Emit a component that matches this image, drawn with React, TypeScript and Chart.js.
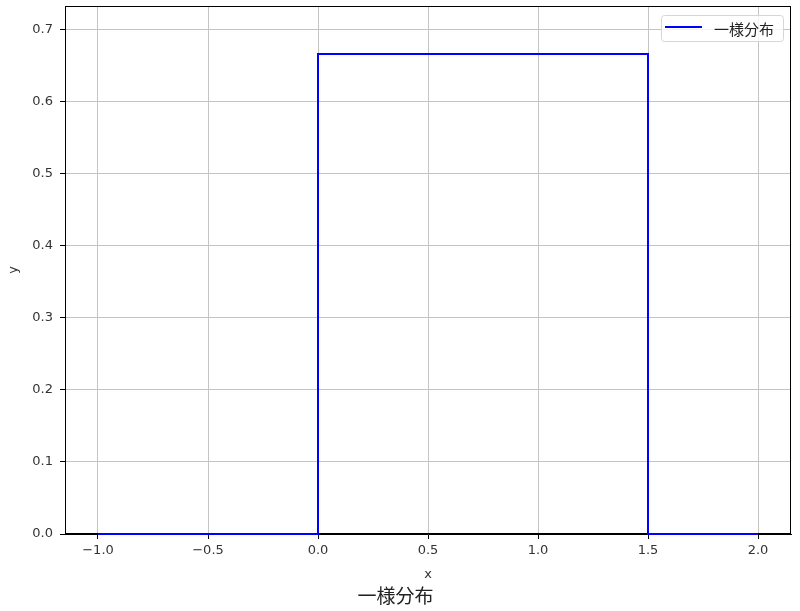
import React, { useEffect, useRef } from "react";
import { Chart, registerables } from "chart.js";

Chart.register(...registerables);

const xValues = [-1.0, 0.0, 0.0, 1.5, 1.5, 2.0];
const yValues = [0.0, 0.0, 0.6667, 0.6667, 0.0, 0.0];
const xTicks = [-1.0, -0.5, 0.0, 0.5, 1.0, 1.5, 2.0];
const yTicks = [0.0, 0.1, 0.2, 0.3, 0.4, 0.5, 0.6, 0.7];
const seriesLabel = "一様分布";
const chartTitle = "一様分布";
const xLabel = "x";
const yLabel = "y";

const CJK = "'Noto Sans CJK JP', 'Noto Sans', sans-serif";
const LAT = "'DejaVu Sans', sans-serif";

const fmt = (v: number) => {
  const s = Math.abs(v).toFixed(1);
  return v < -1e-9 ? "\u2212" + s : s;
};

const framePlugin = {
  id: "frameAndLegend",
  beforeDatasetsDraw(chart: any) {
    const { ctx, chartArea } = chart;
    ctx.save();
    ctx.strokeStyle = "#000";
    ctx.lineWidth = 1;
    ctx.strokeRect(
      Math.round(chartArea.left) + 0.5,
      Math.round(chartArea.top) + 0.5,
      Math.round(chartArea.right - chartArea.left) - 1,
      Math.round(chartArea.bottom - chartArea.top) - 1
    );
    ctx.restore();
  },
  afterDraw(chart: any) {
    const { ctx, chartArea } = chart;
    ctx.save();
    const ds = chart.data.datasets[0];
    ctx.font = `15px ${CJK}`;
    const tw = ctx.measureText(ds.label).width;
    const lineLen = 37;
    const w = 4 + lineLen + 12 + tw + 9;
    const h = 26;
    const right = chartArea.right - 8;
    const top = chartArea.top + 9;
    const left = right - w;
    ctx.beginPath();
    ctx.roundRect(left + 0.5, top + 0.5, w, h, 3);
    ctx.fillStyle = "rgba(255,255,255,0.8)";
    ctx.fill();
    ctx.strokeStyle = "#d6d6d6";
    ctx.lineWidth = 1;
    ctx.stroke();
    const cy = top + h / 2;
    ctx.beginPath();
    ctx.moveTo(left + 4, cy - 1);
    ctx.lineTo(left + 4 + lineLen, cy - 1);
    ctx.strokeStyle = ds.borderColor;
    ctx.lineWidth = 2;
    ctx.stroke();
    ctx.fillStyle = "#222";
    ctx.textBaseline = "middle";
    ctx.textAlign = "left";
    ctx.fillText(ds.label, left + 4 + lineLen + 12, cy + 1);
    ctx.restore();
  },
};

export default function App() {
  const ref = useRef<HTMLCanvasElement | null>(null);
  useEffect(() => {
    if (!ref.current) return;
    const data = xValues.map((x, i) => ({ x, y: yValues[i] }));
    const chart = new Chart(ref.current, {
      type: "scatter",
      data: {
        datasets: [
          {
            label: seriesLabel,
            data,
            showLine: true,
            borderColor: "#0000ff",
            backgroundColor: "#0000ff",
            borderWidth: 2,
            pointRadius: 0,
            tension: 0,
            clip: 3,
          },
        ],
      },
      options: {
        animation: false,
        responsive: false,
        layout: { padding: { top: 6, right: 9, left: 0, bottom: 0 } },
        plugins: {
          legend: { display: false },
          tooltip: { enabled: false },
          title: {
            display: true,
            text: chartTitle,
            position: "bottom",
            color: "#222",
            font: { family: CJK, size: 19, weight: "normal" },
            padding: { top: 1, bottom: 4 },
          },
        },
        scales: {
          x: {
            type: "linear",
            min: -1.15,
            max: 2.15,
            afterBuildTicks: (s: any) => {
              s.ticks = xTicks.map((v) => ({ value: v }));
            },
            afterFit: (s: any) => {
              s.height = 49.2;
              s.paddingLeft = 0;
              s.paddingRight = 0;
            },
            ticks: {
              callback: (v: any) => fmt(Number(v)),
              color: "#333",
              font: { family: LAT, size: 13 },
              padding: 4,
              maxRotation: 0,
            },
            grid: {
              color: "#c4c4c4",
              lineWidth: 1,
              tickLength: 5,
              tickColor: "#000",
            },
            border: { color: "#000", width: 1 },
            title: {
              display: true,
              text: xLabel,
              color: "#333",
              font: { family: LAT, size: 13 },
              padding: { top: 0, bottom: 0.6 },
            },
          },
          y: {
            type: "linear",
            min: 0,
            max: 0.7333,
            afterBuildTicks: (s: any) => {
              s.ticks = yTicks.map((v) => ({ value: v }));
            },
            afterFit: (s: any) => {
              s.width = 65;
              s.paddingTop = 0;
              s.paddingBottom = 0;
            },
            ticks: {
              callback: (v: any) => fmt(Number(v)),
              color: "#333",
              font: { family: LAT, size: 13 },
              padding: 7,
            },
            grid: {
              color: "#c4c4c4",
              lineWidth: 1,
              tickLength: 5,
              tickColor: "#000",
            },
            border: { color: "#000", width: 1 },
            title: {
              display: true,
              text: yLabel,
              color: "#333",
              font: { family: LAT, size: 13 },
              padding: { top: 6, bottom: 0 },
            },
          },
        },
      },
      plugins: [framePlugin],
    } as any);
    return () => chart.destroy();
  }, []);
  return (
    <div style={{ position: "fixed", left: 0, top: 0, width: 800, height: 611, background: "#fff" }}>
      <canvas ref={ref} width={800} height={611} />
    </div>
  );
}
